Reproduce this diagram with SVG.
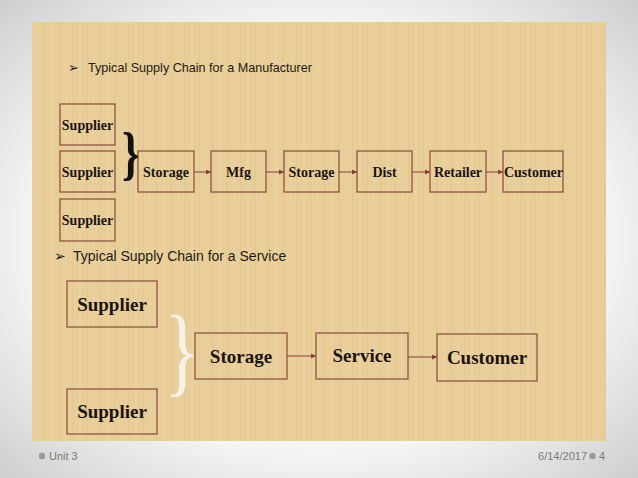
<svg xmlns="http://www.w3.org/2000/svg" width="638" height="478" viewBox="0 0 638 478">
<defs>
<radialGradient id="bg" cx="50%" cy="50%" r="75%">
<stop offset="0" stop-color="#ffffff"/>
<stop offset="0.6" stop-color="#f4f4f4"/>
<stop offset="1" stop-color="#c8c8c8"/>
</radialGradient>
<pattern id="tex" width="14" height="9" patternUnits="userSpaceOnUse">
<rect width="14" height="9" fill="#e8cf99"/>
<line x1="3" y1="0" x2="3" y2="9" stroke="#d9bd84" stroke-width="0.8" opacity="0.6"/>
<line x1="10" y1="0" x2="10" y2="9" stroke="#f0dcae" stroke-width="0.8" opacity="0.6"/>
<line x1="0" y1="4" x2="14" y2="4" stroke="#dcc28c" stroke-width="0.5" opacity="0.5"/>
</pattern>
<marker id="ah" viewBox="0 0 6 6" refX="6" refY="3" markerWidth="5" markerHeight="5" orient="auto" markerUnits="userSpaceOnUse">
<path d="M0,0 L6,3 L0,6 z" fill="#8b3a3a"/>
</marker>
</defs>
<style>
.box{fill:none;stroke:#8a4a3c;stroke-width:1.2}
.s{font-family:"Liberation Serif","Times New Roman",serif;font-weight:bold;font-size:14px;fill:#1a1410;text-anchor:middle}
.b{font-family:"Liberation Serif","Times New Roman",serif;font-weight:bold;font-size:19px;fill:#1a1410;text-anchor:middle}
.t{font-family:"Liberation Sans",Arial,sans-serif;fill:#1f1a14}
.f{font-family:"Liberation Sans",Arial,sans-serif;font-size:11px;fill:#7a7a7a}
.c{stroke:#8b3a3a;stroke-width:1;fill:none;marker-end:url(#ah)}
</style>
<rect width="638" height="478" fill="url(#bg)"/>
<rect x="32" y="22" width="574" height="419" fill="url(#tex)"/>

<text class="t" x="68" y="72" font-size="12.5">➢</text>
<text class="t" x="88" y="72" font-size="12.6">Typical Supply Chain for a Manufacturer</text>

<g id="m-sup1"><rect class="box" x="60" y="104" width="55" height="41"/><text class="s" x="87.5" y="130">Supplier</text></g>
<g id="m-sup2"><rect class="box" x="60" y="151" width="55" height="41"/><text class="s" x="87.5" y="177">Supplier</text></g>
<g id="m-sup3"><rect class="box" x="60" y="199" width="55" height="42"/><text class="s" x="87.5" y="225">Supplier</text></g>
<g id="m-brace"><text x="122" y="173" font-family="'Liberation Serif',serif" font-weight="bold" font-size="60" fill="#111" transform="translate(122 173) scale(0.75 1) translate(-122 -173)">}</text></g>
<g id="m-storage1"><rect class="box" x="138" y="151" width="56" height="41"/><text class="s" x="166" y="177">Storage</text></g>
<g id="m-mfg"><rect class="box" x="211" y="151" width="55" height="41"/><text class="s" x="238.5" y="177">Mfg</text></g>
<g id="m-storage2"><rect class="box" x="284" y="151" width="55" height="41"/><text class="s" x="311.5" y="177">Storage</text></g>
<g id="m-dist"><rect class="box" x="357" y="151" width="55" height="41"/><text class="s" x="384.5" y="177">Dist</text></g>
<g id="m-retailer"><rect class="box" x="430" y="151" width="56" height="41"/><text class="s" x="458" y="177">Retailer</text></g>
<g id="m-customer"><rect class="box" x="503" y="151" width="60" height="41"/><text class="s" x="533.5" y="177">Customer</text></g>

<text class="t" x="54" y="261" font-size="14">➢</text>
<text class="t" x="73" y="261" font-size="14">Typical Supply Chain for a Service</text>

<g id="s-sup1"><rect class="box" x="67" y="281" width="90" height="46"/><text class="b" x="112" y="311">Supplier</text></g>
<g id="s-sup2"><rect class="box" x="67" y="389" width="90" height="45"/><text class="b" x="112" y="418">Supplier</text></g>
<g id="s-brace"><text x="164" y="384" font-family="'Liberation Serif',serif" font-size="100" fill="#f7f2e8" transform="translate(164 384) scale(0.75 1) translate(-164 -384)">}</text></g>
<g id="s-storage"><rect class="box" x="195" y="333" width="92" height="46"/><text class="b" x="241" y="363">Storage</text></g>
<g id="s-service"><rect class="box" x="316" y="333" width="92" height="46"/><text class="b" x="362" y="362">Service</text></g>
<g id="s-customer"><rect class="box" x="437" y="334" width="100" height="47"/><text class="b" x="487" y="364">Customer</text></g>

<g id="connectors">
<line class="c" x1="194" y1="172" x2="211" y2="172"/>
<line class="c" x1="266" y1="172" x2="284" y2="172"/>
<line class="c" x1="339" y1="172" x2="357" y2="172"/>
<line class="c" x1="412" y1="172" x2="430" y2="172"/>
<line class="c" x1="486" y1="172" x2="503" y2="172"/>
<line class="c" x1="287" y1="356" x2="316" y2="356"/>
<line class="c" x1="408" y1="357" x2="437" y2="357"/>
</g>

<circle cx="42" cy="456" r="3.2" fill="#9a9a9a"/>
<text class="f" x="49" y="460">Unit 3</text>
<text class="f" x="587" y="460" text-anchor="end">6/14/2017</text>
<circle cx="592.5" cy="456" r="3.2" fill="#9a9a9a"/>
<text class="f" x="599" y="460">4</text>
</svg>
